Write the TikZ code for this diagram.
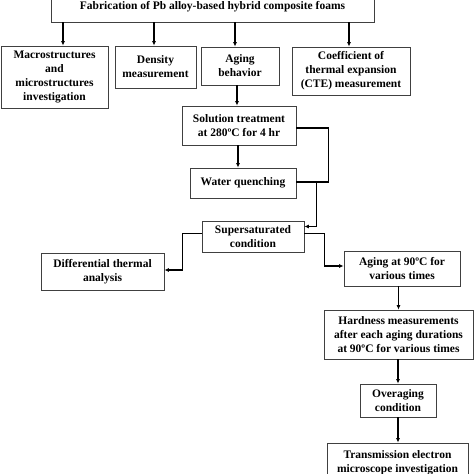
\documentclass[tikz,border=0pt]{standalone}
\usepackage{fontspec}
\setmainfont{Liberation Serif}
\usetikzlibrary{arrows.meta, positioning}

\begin{document}
\begin{tikzpicture}[x=1pt, y=-1pt,
        box/.style={draw=black!75, line width=0.8pt, fill=white, align=center,
            inner sep=1pt, font=\fontsize{11.5}{14}\selectfont\bfseries},
        arr/.style={line width=1.1pt, -{Latex[length=4.5pt, width=4pt]}},
        bracket/.style={line width=1.6pt}]
        \useasboundingbox (0,0) rectangle (474,474);
        \begin{scope}[xshift=0cm]
            \node[box, minimum width=323pt, minimum height=30pt] (fab) at (212.5, 7) {Fabrication of Pb alloy-based hybrid composite foams};
            \node[box, minimum width=107pt, minimum height=62pt] (macro) at (54.5, 77) {Macrostructures\\and\\microstructures\\investigation};
            \node[box, minimum width=81pt, minimum height=42pt] (dens) at (155.5, 67) {Density\\measurement};
            \node[box, minimum width=78pt, minimum height=38pt] (agebeh) at (240, 66) {Aging\\behavior};
            \node[box, minimum width=118pt, minimum height=48pt] (cte) at (351, 71) {Coefficient of\\thermal expansion\\(CTE) measurement};
            \node[box, minimum width=114pt, minimum height=39pt] (sol) at (239, 125.5) {Solution treatment\\at 280ºC for 4 hr};
            \node[box, minimum width=106pt, minimum height=30pt] (wq) at (243, 183) {Water quenching};
            \node[box, minimum width=102pt, minimum height=31pt] (super) at (253, 236.5) {Supersaturated\\condition};
            \node[box, minimum width=123pt, minimum height=37pt] (dta) at (102.5, 271.5) {Differential thermal\\analysis};
            \node[box, minimum width=116pt, minimum height=35pt] (age90) at (402, 268.5) {Aging at 90ºC for\\various times};
            \node[box, minimum width=149pt, minimum height=49pt] (hard) at (398.5, 334.5) {Hardness measurements\\after each aging durations\\at 90ºC for various times};
            \node[box, minimum width=76pt, minimum height=33pt] (over) at (398, 400.5) {Overaging\\condition};
            \node[box, minimum width=141pt, minimum height=40pt] (tem) at (397.5, 463) {Transmission electron\\microscope investigation};

            \draw[arr] ([xshift=8.5pt]macro.north |- fab.south) -- ([xshift=8.5pt]macro.north);
            \draw[arr] ([xshift=-1.5pt]dens.north |- fab.south) -- ([xshift=-1.5pt]dens.north);
            \draw[arr] ([xshift=-5pt]agebeh.north |- fab.south) -- ([xshift=-5pt]agebeh.north);
            \draw[arr] ([xshift=-2pt]cte.north |- fab.south) -- ([xshift=-2pt]cte.north);
            \draw[arr] ([xshift=-3pt]agebeh.south) -- ([xshift=-3pt]agebeh.south |- sol.north);
            \draw[arr] ([xshift=-1pt]sol.south) -- ([xshift=-1pt]sol.south |- wq.north);
            \draw[bracket] ([yshift=-2.5pt]sol.east) -- ++(32,0) |- ([yshift=1pt]wq.east);
            \coordinate (join) at ([xshift=20pt, yshift=1pt]wq.east);
            \draw[arr] (join) |- ([yshift=10pt]super.east);
            \draw[arr] ([yshift=3pt]super.west) -- ++(-19,0) |- ([yshift=1.5pt]dta.east);
            \draw[arr] ([yshift=3pt]super.east) -- ++(20,0) |- ([yshift=2.5pt]age90.west);
            \draw[arr] (hard.north |- age90.south) -- (hard.north);
            \draw[arr] (over.north |- hard.south) -- (over.north);
            \draw[arr] (over.south) -- (over.south |- tem.north);
        \end{scope}
    \end{tikzpicture}
\end{document}
